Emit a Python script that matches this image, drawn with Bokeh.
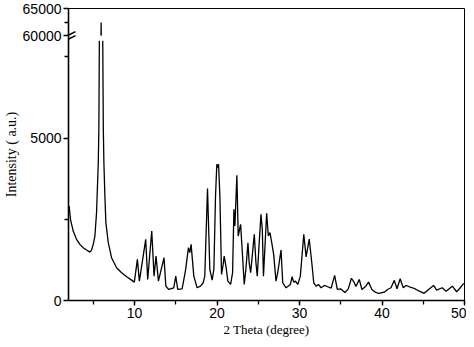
import numpy as np
from bokeh.plotting import figure
from bokeh.models import Range1d, FixedTicker, SingleIntervalTicker, Arrow
from bokeh.embed import file_html
from bokeh.resources import INLINE

nan = float("nan")

# ---- data (2 theta in degree, intensity in a.u.) ----
two_theta = [
    2.08, 2.24, 2.57, 2.97, 3.38, 3.78, 4.19, 4.59, 4.79, 5.00, 5.20, 5.40, 5.61, 5.68, 5.74,
    nan,
    6.15, 6.22, 6.29, 6.41, 6.53, 6.82, 7.22, 7.83, 8.44, 9.05, 9.65, 9.98,
    10.35, 10.59, 11.36, 11.60, 12.09, 12.37, 12.61, 12.90, 13.58, 13.80, 14.15, 14.76,
    15.00, 15.24, 15.77, 16.06, 16.20, 16.54, 16.70, 16.86, 17.19, 17.59, 18.00, 18.32,
    18.52, 18.85, 19.13, 19.41, 19.62, 19.82, 19.98, 20.10, 20.19, 20.35, 20.55, 20.75,
    20.87, 21.08, 21.32, 21.65, 21.89, 22.05, 22.17, 22.41, 22.57, 22.86, 23.10, 23.30,
    23.50, 23.75, 23.90, 24.08, 24.27, 24.52, 24.72, 24.88, 25.09, 25.33, 25.49, 25.63,
    26.02, 26.22, 26.42, 26.67, 26.87, 27.15, 27.36, 27.76, 27.97, 28.37, 28.90, 29.10,
    29.30, 29.50, 29.79, 30.10, 30.52, 30.80, 31.18, 31.49, 31.73, 32.01, 32.29, 32.62,
    33.02, 33.43, 33.84, 34.26, 34.58, 34.98, 35.50, 35.90, 36.29, 36.59, 36.85, 37.24,
    37.57, 37.97, 38.37, 38.78, 39.18, 39.60, 40.27, 40.68, 41.09, 41.49, 41.82, 42.20,
    42.58, 42.91, 43.31, 43.71, 44.13, 44.53, 45.10, 45.54, 46.25, 46.63, 47.29, 47.77,
    48.53, 49.05, 49.39, 49.91,
]
intensity = [
    2910, 2500, 2139, 1882, 1728, 1626, 1553, 1491, 1553, 1728, 1984, 2706, 4249, 5277, 8000,
    nan,
    8000, 5277, 4249, 3219, 2398, 1780, 1317, 1009, 855, 731, 627, 566,
    1265, 596, 1882, 648, 2139, 750, 1367, 596, 1317, 441, 340, 392,
    750, 340, 361, 750, 957, 1626, 1472, 1728, 750, 392, 441, 546,
    750, 3447, 957, 627, 957, 3219, 4197, 4095, 4197, 3219, 802, 1111,
    1367, 1060, 596, 494, 855, 2808, 2293, 3858, 1984, 2345, 1367, 494,
    957, 1780, 1163, 855, 1367, 2037, 1163, 750, 1676, 2654, 2191, 750,
    2685, 1984, 2089, 1728, 1420, 596, 855, 1553, 546, 392, 494, 731,
    566, 596, 494, 750, 2037, 1340, 1890, 1163, 546, 441, 494, 392,
    463, 423, 380, 775, 340, 361, 245, 350, 685, 571, 435, 648,
    340, 423, 566, 340, 256, 216, 256, 340, 392, 620, 361, 670,
    392, 463, 423, 392, 340, 288, 220, 318, 463, 318, 392, 288,
    440, 270, 361, 525,
]
# top of the main peak, drawn above the axis break
peak_top_theta = [5.94, 5.955, 5.97]
peak_top_intensity = [60000, 62400, 60000]

x_tick_step = 10
low_ticks = [0, 5000]
low_minor = [2500, 7500]
high_ticks = [60000, 65000]
high_minor = [62500]

# ---- broken y axis layout (lower part in its own units) ----
LOW_TOP = 8990      # lower-axis units at the top of the frame
P_HIGH0 = 8155      # lower-axis units where 60000 sits
frac = P_HIGH0 / LOW_TOP
high_start = (high_ticks[0] - frac * high_ticks[1]) / (1 - frac)

p = figure(width=466, height=339, output_backend="svg", toolbar_location=None,
           x_range=Range1d(2, 50), y_range=Range1d(0, LOW_TOP),
           min_border_left=60, min_border_right=2, min_border_top=8, min_border_bottom=5)
p.extra_y_ranges = {"high": Range1d(high_start, high_ticks[1])}

p.line(np.array(two_theta), np.array(intensity), line_color="black", line_width=1.3)
p.line(peak_top_theta, peak_top_intensity, y_range_name="high", line_color="black", line_width=1.3)

p.xgrid.visible = False
p.ygrid.visible = False
p.outline_line_color = "black"
p.outline_line_width = 1
p.background_fill_color = "white"
p.border_fill_color = "white"

p.xaxis.ticker = SingleIntervalTicker(interval=x_tick_step, num_minor_ticks=2)
upper_tick_pos = [P_HIGH0, LOW_TOP]
p.yaxis.ticker = FixedTicker(ticks=low_ticks + upper_tick_pos,
                             minor_ticks=low_minor + [(P_HIGH0 + LOW_TOP) // 2])
overrides = {t: str(t) for t in low_ticks}
for pos, lab in zip(upper_tick_pos, high_ticks):
    overrides[pos] = str(lab)
p.yaxis.major_label_overrides = overrides

for ax in (p.xaxis[0], p.yaxis[0]):
    ax.axis_line_width = 1.6
    ax.axis_line_color = "black"
    ax.major_tick_in = 0
    ax.major_tick_out = 5
    ax.minor_tick_in = 0
    ax.minor_tick_out = 4
    ax.major_tick_line_width = 1.3
    ax.minor_tick_line_width = 1.3
    ax.major_tick_line_color = "black"
    ax.minor_tick_line_color = "black"
    ax.major_label_text_font = "Liberation Sans"
    ax.major_label_text_font_size = "14px"
    ax.major_label_text_color = "black"
    ax.major_label_standoff = 2
    ax.axis_label_text_font = "Liberation Serif"
    ax.axis_label_text_font_style = "normal"
    ax.axis_label_text_color = "black"
    ax.axis_label_standoff = 1

p.xaxis.axis_label = "2 Theta (degree)"
p.xaxis.axis_label_text_font_size = "13px"
p.yaxis.axis_label = "Intensity ( a.u.)"
p.yaxis.axis_label_text_font_size = "14px"

# axis-break marks "//"
px = LOW_TOP / 290.0
for off in (0, -4):
    p.add_layout(Arrow(end=None, x_start=1.15, x_end=2.85,
                       y_start=P_HIGH0 + (off - 3) * px, y_end=P_HIGH0 + (off + 4) * px,
                       line_color="black", line_width=1.5))

open("out.html", "w").write(file_html(p, INLINE))
